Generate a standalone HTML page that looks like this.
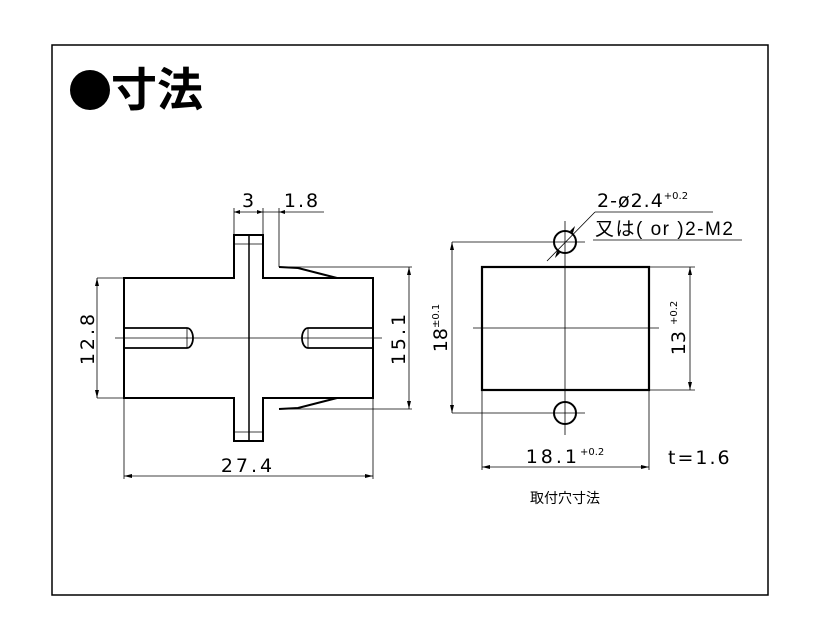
<!DOCTYPE html>
<html><head><meta charset="utf-8"><style>
html,body{margin:0;padding:0;background:#fff;}
body{width:820px;height:640px;position:relative;overflow:hidden;}
svg{position:absolute;left:0;top:0;}
</style></head><body>
<svg width="820" height="640" viewBox="0 0 820 640" font-family="'Liberation Sans','Noto Sans CJK JP',sans-serif">
<rect x="52" y="45" width="716" height="550" fill="#fff" stroke="#000" stroke-width="1.5"/>
<circle cx="90" cy="90" r="20" fill="#000"/>
<text x="111" y="106" font-size="46" font-weight="bold" font-family="'Noto Sans CJK JP',sans-serif">寸法</text>
<g stroke="#000" fill="none">
<path d="M124 278 H234 V235 H263 V278 H373 V398 H263 V441 H234 V398 H124 Z" stroke-width="2"/>
<line x1="249" y1="235" x2="249" y2="441" stroke-width="1.5"/>
<line x1="234" y1="244" x2="263" y2="244" stroke-width="0.7"/>
<line x1="234" y1="432" x2="263" y2="432" stroke-width="0.7"/>
<line x1="115" y1="338" x2="382" y2="338" stroke-width="0.8"/>
<path d="M124 328 H187 A6 10 0 0 1 187 348 H124" stroke-width="1.8"/>
<line x1="187" y1="328" x2="187" y2="348" stroke-width="0.8"/>
<path d="M373 328 H308 A6 10 0 0 0 308 348 H373" stroke-width="1.8"/>
<line x1="308" y1="328" x2="308" y2="348" stroke-width="0.8"/>
<path d="M279 267 L298 268 L337 278" stroke-width="2"/>
<path d="M279 409 L298 408 L337 398" stroke-width="2"/>
<g stroke-width="0.8">
<line x1="97" y1="278" x2="124" y2="278"/><line x1="97" y1="398" x2="124" y2="398"/>
<line x1="97" y1="278" x2="97" y2="398"/>
<line x1="279" y1="267" x2="412" y2="267"/><line x1="279" y1="409" x2="412" y2="409"/>
<line x1="409" y1="267" x2="409" y2="409"/>
<line x1="124" y1="398" x2="124" y2="479"/><line x1="373" y1="398" x2="373" y2="479"/>
<line x1="124" y1="476" x2="373" y2="476"/>
<line x1="234" y1="208" x2="234" y2="235"/><line x1="263" y1="208" x2="263" y2="235"/>
<line x1="234" y1="212" x2="263" y2="212"/>
<line x1="279" y1="208" x2="279" y2="267"/>
<line x1="263" y1="212" x2="324" y2="212"/>
<rect x="482" y="267" width="167" height="123" stroke-width="2.2"/>
<line x1="565" y1="221" x2="565" y2="435"/>
<line x1="473" y1="328" x2="659" y2="328"/>
<line x1="452" y1="242" x2="585" y2="242"/><line x1="452" y1="413" x2="585" y2="413"/>
<line x1="452" y1="242" x2="452" y2="413"/>
<line x1="649" y1="267" x2="695" y2="267"/><line x1="649" y1="390" x2="695" y2="390"/>
<line x1="690" y1="267" x2="690" y2="390"/>
<line x1="482" y1="390" x2="482" y2="470"/><line x1="649" y1="390" x2="649" y2="470"/>
<line x1="482" y1="467" x2="649" y2="467"/>
<line x1="547" y1="261" x2="595" y2="212"/>
<line x1="595" y1="212" x2="713" y2="212"/>
<line x1="593" y1="240" x2="742" y2="240"/>
</g>
<circle cx="565" cy="242" r="11" stroke-width="2"/>
<circle cx="565" cy="413" r="11" stroke-width="2"/>
</g>
<g fill="#000">
<path d="M97 278 l-2 8 h4z M97 398 l-2 -8 h4z M409 267 l-2 8 h4z M409 409 l-2 -8 h4z M124 476 l8 -2 v4z M373 476 l-8 -2 v4z M234 212 l6 -2 v4z M263 212 l-6 -2 v4z M279 212 l6 -2 v4z
M452 242 l-2 8 h4z M452 413 l-2 -8 h4z M690 267 l-2 8 h4z M690 390 l-2 -8 h4z M482 467 l8 -2 v4z M649 467 l-8 -2 v4z M557 251 l-2 7 l5 -5z M573 233 l2 -7 l-5 5z"/>
</g>
<g font-family="'DejaVu Sans','Liberation Sans',sans-serif" font-size="19" fill="#000">
<text x="248" y="207" text-anchor="middle">3</text>
<text x="302" y="207" text-anchor="middle" letter-spacing="2">1.8</text>
<text x="248" y="472" text-anchor="middle" letter-spacing="3">27.4</text>
<text transform="translate(94 338) rotate(-90)" text-anchor="middle" letter-spacing="3">12.8</text>
<text transform="translate(405 338) rotate(-90)" text-anchor="middle" letter-spacing="3">15.1</text>
<text transform="translate(447 328) rotate(-90)" text-anchor="middle">18<tspan font-size="10" dy="-8">±0.1</tspan></text>
<text transform="translate(685 328) rotate(-90)" text-anchor="middle">13 <tspan font-size="10" dy="-8">+0.2</tspan></text>
<text x="565" y="463" text-anchor="middle" letter-spacing="3">18.1<tspan font-size="10" dy="-8" letter-spacing="0">+0.2</tspan></text>
<text x="668" y="464" letter-spacing="2">t=1.6</text>
<text x="597" y="207" letter-spacing="1">2-ø2.4<tspan font-size="10" dy="-8" letter-spacing="0">+0.2</tspan></text>
<text x="595" y="235" font-family="'Liberation Sans','Noto Sans CJK JP',sans-serif" letter-spacing="1.5">又は( or )2-M2</text>
<text x="565" y="503" text-anchor="middle" font-size="14" font-family="'Noto Sans CJK JP',sans-serif">取付穴寸法</text>
</g>
</svg>
</body></html>
